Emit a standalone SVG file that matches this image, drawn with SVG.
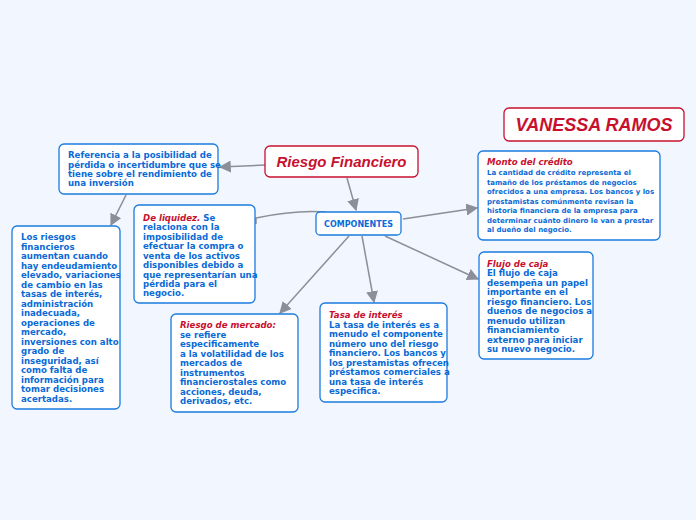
<svg xmlns="http://www.w3.org/2000/svg" width="696" height="520" viewBox="0 0 696 520">
<defs>
<marker id="ar" viewBox="0 0 10 10" refX="9" refY="5" markerWidth="8" markerHeight="8" orient="auto-start-reverse"><path d="M0,0L10,5L0,10z" fill="#8a8f99"/></marker>
<style>
.b{fill:#fff;stroke:#1a7be0;stroke-width:1.3}
.r{fill:#fff;stroke:#c8102e;stroke-width:1.3}
.t{font-family:"DejaVu Sans",sans-serif;font-weight:bold;font-size:8.6px;fill:#0a6ad6}
.s{font-size:7px}
.h{fill:#c8102e;font-style:italic}
.c{fill:none;stroke:#8a8f99;stroke-width:1.5;marker-end:url(#ar)}
</style>
</defs>
<rect width="696" height="520" fill="#f2f6fe"/>
<g id="connectors">
<path class="c" d="M265,165L220,167"/>
<path class="c" d="M347,178L356,210"/>
<path class="c" d="M126,195L111,225"/>
<path d="M326,212C300,210 270,215 256,218L256,224" fill="none" stroke="#8a8f99" stroke-width="1.5"/>
<path class="c" d="M349,236L280,313"/>
<path class="c" d="M362,236L374,302"/>
<path class="c" d="M403,219L477,208"/>
<path class="c" d="M385,236L478,279"/>
</g>
<g id="riesgo"><rect class="r" x="265" y="146" width="153" height="31" rx="5"/><text class="t h" x="341.5" y="167" text-anchor="middle" style="font-family:'Liberation Sans',sans-serif;font-size:15px">Riesgo Financiero</text></g>
<g id="vanessa"><rect class="r" x="504" y="108" width="180" height="33" rx="5"/><text class="t h" x="594" y="131" text-anchor="middle" style="font-family:'Liberation Sans',sans-serif;font-size:18px">VANESSA RAMOS</text></g>
<g id="componentes"><rect class="b" x="316" y="212" width="85" height="23" rx="4"/><text class="t" x="358.5" y="227" text-anchor="middle" style="font-size:8px">COMPONENTES</text></g>
<g id="referencia"><rect class="b" x="59" y="144" width="159" height="50" rx="5"/><text class="t"><tspan x="68" y="158">Referencia a la posibilidad de</tspan><tspan x="68" y="168">pérdida o incertidumbre que se</tspan><tspan x="68" y="177">tiene sobre el rendimiento de</tspan><tspan x="68" y="186">una inversión</tspan></text></g>
<g id="losriesgos"><rect class="b" x="12" y="226" width="108" height="183" rx="5"/><text class="t"><tspan x="21" y="240">Los riesgos</tspan><tspan x="21" y="250">financieros</tspan><tspan x="21" y="259">aumentan cuando</tspan><tspan x="21" y="269">hay endeudamiento</tspan><tspan x="21" y="278">elevado, variaciones</tspan><tspan x="21" y="288">de cambio en las</tspan><tspan x="21" y="297">tasas de interés,</tspan><tspan x="21" y="307">administración</tspan><tspan x="21" y="316">inadecuada,</tspan><tspan x="21" y="326">operaciones de</tspan><tspan x="21" y="335">mercado,</tspan><tspan x="21" y="345">inversiones con alto</tspan><tspan x="21" y="354">grado de</tspan><tspan x="21" y="364">inseguridad, así</tspan><tspan x="21" y="373">como falta de</tspan><tspan x="21" y="383">información para</tspan><tspan x="21" y="392">tomar decisiones</tspan><tspan x="21" y="402">acertadas.</tspan></text></g>
<g id="liquidez"><rect class="b" x="134" y="205" width="121" height="98" rx="5"/><text class="t"><tspan x="143" y="221"><tspan class="h">De liquidez.</tspan> Se</tspan><tspan x="143" y="230">relaciona con la</tspan><tspan x="143" y="240">imposibilidad de</tspan><tspan x="143" y="249">efectuar la compra o</tspan><tspan x="143" y="259">venta de los activos</tspan><tspan x="143" y="268">disponibles debido a</tspan><tspan x="143" y="278">que representarían una</tspan><tspan x="143" y="287">pérdida para el</tspan><tspan x="143" y="296">negocio.</tspan></text></g>
<g id="mercado"><rect class="b" x="171" y="314" width="127" height="98" rx="5"/><text class="t"><tspan class="h" x="180" y="328">Riesgo de mercado:</tspan><tspan x="180" y="338">se refiere</tspan><tspan x="180" y="347">especificamente</tspan><tspan x="180" y="357">a la volatilidad de los</tspan><tspan x="180" y="366">mercados de</tspan><tspan x="180" y="376">instrumentos</tspan><tspan x="180" y="385">financierostales como</tspan><tspan x="180" y="395">acciones, deuda,</tspan><tspan x="180" y="404">derivados, etc.</tspan></text></g>
<g id="tasa"><rect class="b" x="320" y="303" width="127" height="99" rx="5"/><text class="t"><tspan class="h" x="329" y="318">Tasa de interés</tspan><tspan x="329" y="328">La tasa de interés es a</tspan><tspan x="329" y="337">menudo el componente</tspan><tspan x="329" y="347">número uno del riesgo</tspan><tspan x="329" y="356">financiero. Los bancos y</tspan><tspan x="329" y="366">los prestamistas ofrecen</tspan><tspan x="329" y="375">préstamos comerciales a</tspan><tspan x="329" y="385">una tasa de interés</tspan><tspan x="329" y="394">especifica.</tspan></text></g>
<g id="monto"><rect class="b" x="478" y="151" width="182" height="89" rx="5"/><text class="t"><tspan class="h" x="487" y="165">Monto del crédito</tspan><tspan class="s" x="487" y="175">La cantidad de crédito representa el</tspan><tspan class="s" x="487" y="185">tamaño de los préstamos de negocios</tspan><tspan class="s" x="487" y="194">ofrecidos a una empresa. Los bancos y los</tspan><tspan class="s" x="487" y="204">prestamistas comúnmente revisan la</tspan><tspan class="s" x="487" y="213">historia financiera de la empresa para</tspan><tspan class="s" x="487" y="223">determinar cuánto dinero le van a prestar</tspan><tspan class="s" x="487" y="232">al dueño del negocio.</tspan></text></g>
<g id="flujo"><rect class="b" x="479" y="252" width="114" height="107" rx="5"/><text class="t"><tspan class="h" x="487" y="267">Flujo de caja</tspan><tspan x="487" y="276">El flujo de caja</tspan><tspan x="487" y="286">desempeña un papel</tspan><tspan x="487" y="295">importante en el</tspan><tspan x="487" y="305">riesgo financiero. Los</tspan><tspan x="487" y="314">dueños de negocios a</tspan><tspan x="487" y="324">menudo utilizan</tspan><tspan x="487" y="333">financiamiento</tspan><tspan x="487" y="343">externo para iniciar</tspan><tspan x="487" y="352">su nuevo negocio.</tspan></text></g>
</svg>
